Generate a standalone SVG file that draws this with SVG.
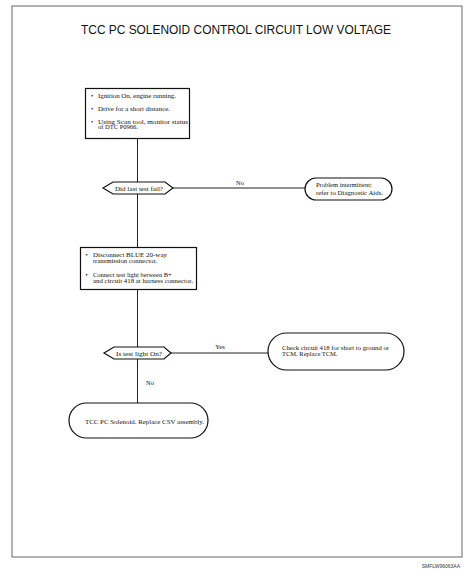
<svg xmlns="http://www.w3.org/2000/svg" width="474" height="571" viewBox="0 0 474 571">
<style>
.t{font-family:"Liberation Serif","Times New Roman",serif;font-size:6.5px;fill:#111}
.c{text-anchor:middle}
.box{fill:#fff;stroke:#111;stroke-width:1.2}
.ln{fill:none;stroke:#222;stroke-width:1}
</style>
<rect x="12" y="6" width="450" height="551" fill="#fff" stroke="#666" stroke-width="1"/>
<text x="236" y="34" font-family="Liberation Sans, Arial, sans-serif" font-size="12.5" fill="#111" text-anchor="middle" textLength="310" lengthAdjust="spacingAndGlyphs">TCC PC SOLENOID CONTROL CIRCUIT LOW VOLTAGE</text>
<g id="connectors">
<line class="ln" x1="137.5" y1="139" x2="137.5" y2="182"/>
<line class="ln" x1="137.5" y1="194" x2="137.5" y2="247"/>
<line class="ln" x1="137.5" y1="290" x2="137.5" y2="347"/>
<line class="ln" x1="137.5" y1="359" x2="137.5" y2="403"/>
<line class="ln" x1="173" y1="188" x2="305" y2="188"/>
<line class="ln" x1="171" y1="353" x2="268" y2="353"/>
<text class="t c" x="240" y="185">No</text>
<text class="t c" x="220" y="349">Yes</text>
<text class="t" x="146" y="385">No</text>
</g>
<g id="step1">
<rect class="box" x="85.5" y="88.5" width="104" height="50"/>
<text class="t" x="91" y="98">•</text>
<text class="t" x="98" y="98" textLength="78" lengthAdjust="spacingAndGlyphs">Ignition On, engine running.</text>
<text class="t" x="91" y="111">•</text>
<text class="t" x="98" y="111" textLength="72" lengthAdjust="spacingAndGlyphs">Drive for a short distance.</text>
<text class="t" x="91" y="123.5">•</text>
<text class="t" x="98" y="123.5" textLength="90" lengthAdjust="spacingAndGlyphs">Using Scan tool, monitor status</text>
<text class="t" x="98" y="129">of DTC P0966.</text>
</g>
<g id="decision1">
<polygon class="box" points="103,188 113,182 165,182 173,188 165,194 113,194"/>
<text class="t c" x="139" y="190.5" textLength="48" lengthAdjust="spacingAndGlyphs">Did last test fail?</text>
</g>
<g id="result1">
<rect class="box" x="305" y="178" width="87" height="22" rx="11"/>
<text class="t" x="316" y="187">Problem intermittent;</text>
<text class="t" x="316" y="194.5" textLength="67" lengthAdjust="spacingAndGlyphs">refer to Diagnostic Aids.</text>
</g>
<g id="step2">
<rect class="box" x="80.5" y="247.5" width="116" height="42"/>
<text class="t" x="85.5" y="257">•</text>
<text class="t" x="93" y="257" textLength="74" lengthAdjust="spacingAndGlyphs">Disconnect BLUE 20-way</text>
<text class="t" x="93" y="262.5" textLength="64" lengthAdjust="spacingAndGlyphs">transmission connector.</text>
<text class="t" x="85.5" y="277">•</text>
<text class="t" x="93" y="277">Connect test light between B+</text>
<text class="t" x="93" y="283" textLength="100" lengthAdjust="spacingAndGlyphs">and circuit 418 at harness connector.</text>
</g>
<g id="decision2">
<polygon class="box" points="104,353 114,347 164,347 171,353 164,359 114,359"/>
<text class="t c" x="139" y="355.5" textLength="46" lengthAdjust="spacingAndGlyphs">Is test light On?</text>
</g>
<g id="result2">
<rect class="box" x="268" y="333" width="136" height="37" rx="18.5"/>
<text class="t" x="282" y="350" textLength="107" lengthAdjust="spacingAndGlyphs">Check circuit 418 for short to ground or</text>
<text class="t" x="282" y="356">TCM. Replace TCM.</text>
</g>
<g id="result3">
<rect class="box" x="69" y="403" width="139" height="35" rx="17.5"/>
<text class="t c" x="144.5" y="424" textLength="119" lengthAdjust="spacingAndGlyphs">TCC PC Solenoid. Replace CSV assembly.</text>
</g>
<text x="460" y="568" font-family="Liberation Sans, Arial, sans-serif" font-size="5" fill="#333" text-anchor="end">SMFLW96063AA</text>
</svg>
